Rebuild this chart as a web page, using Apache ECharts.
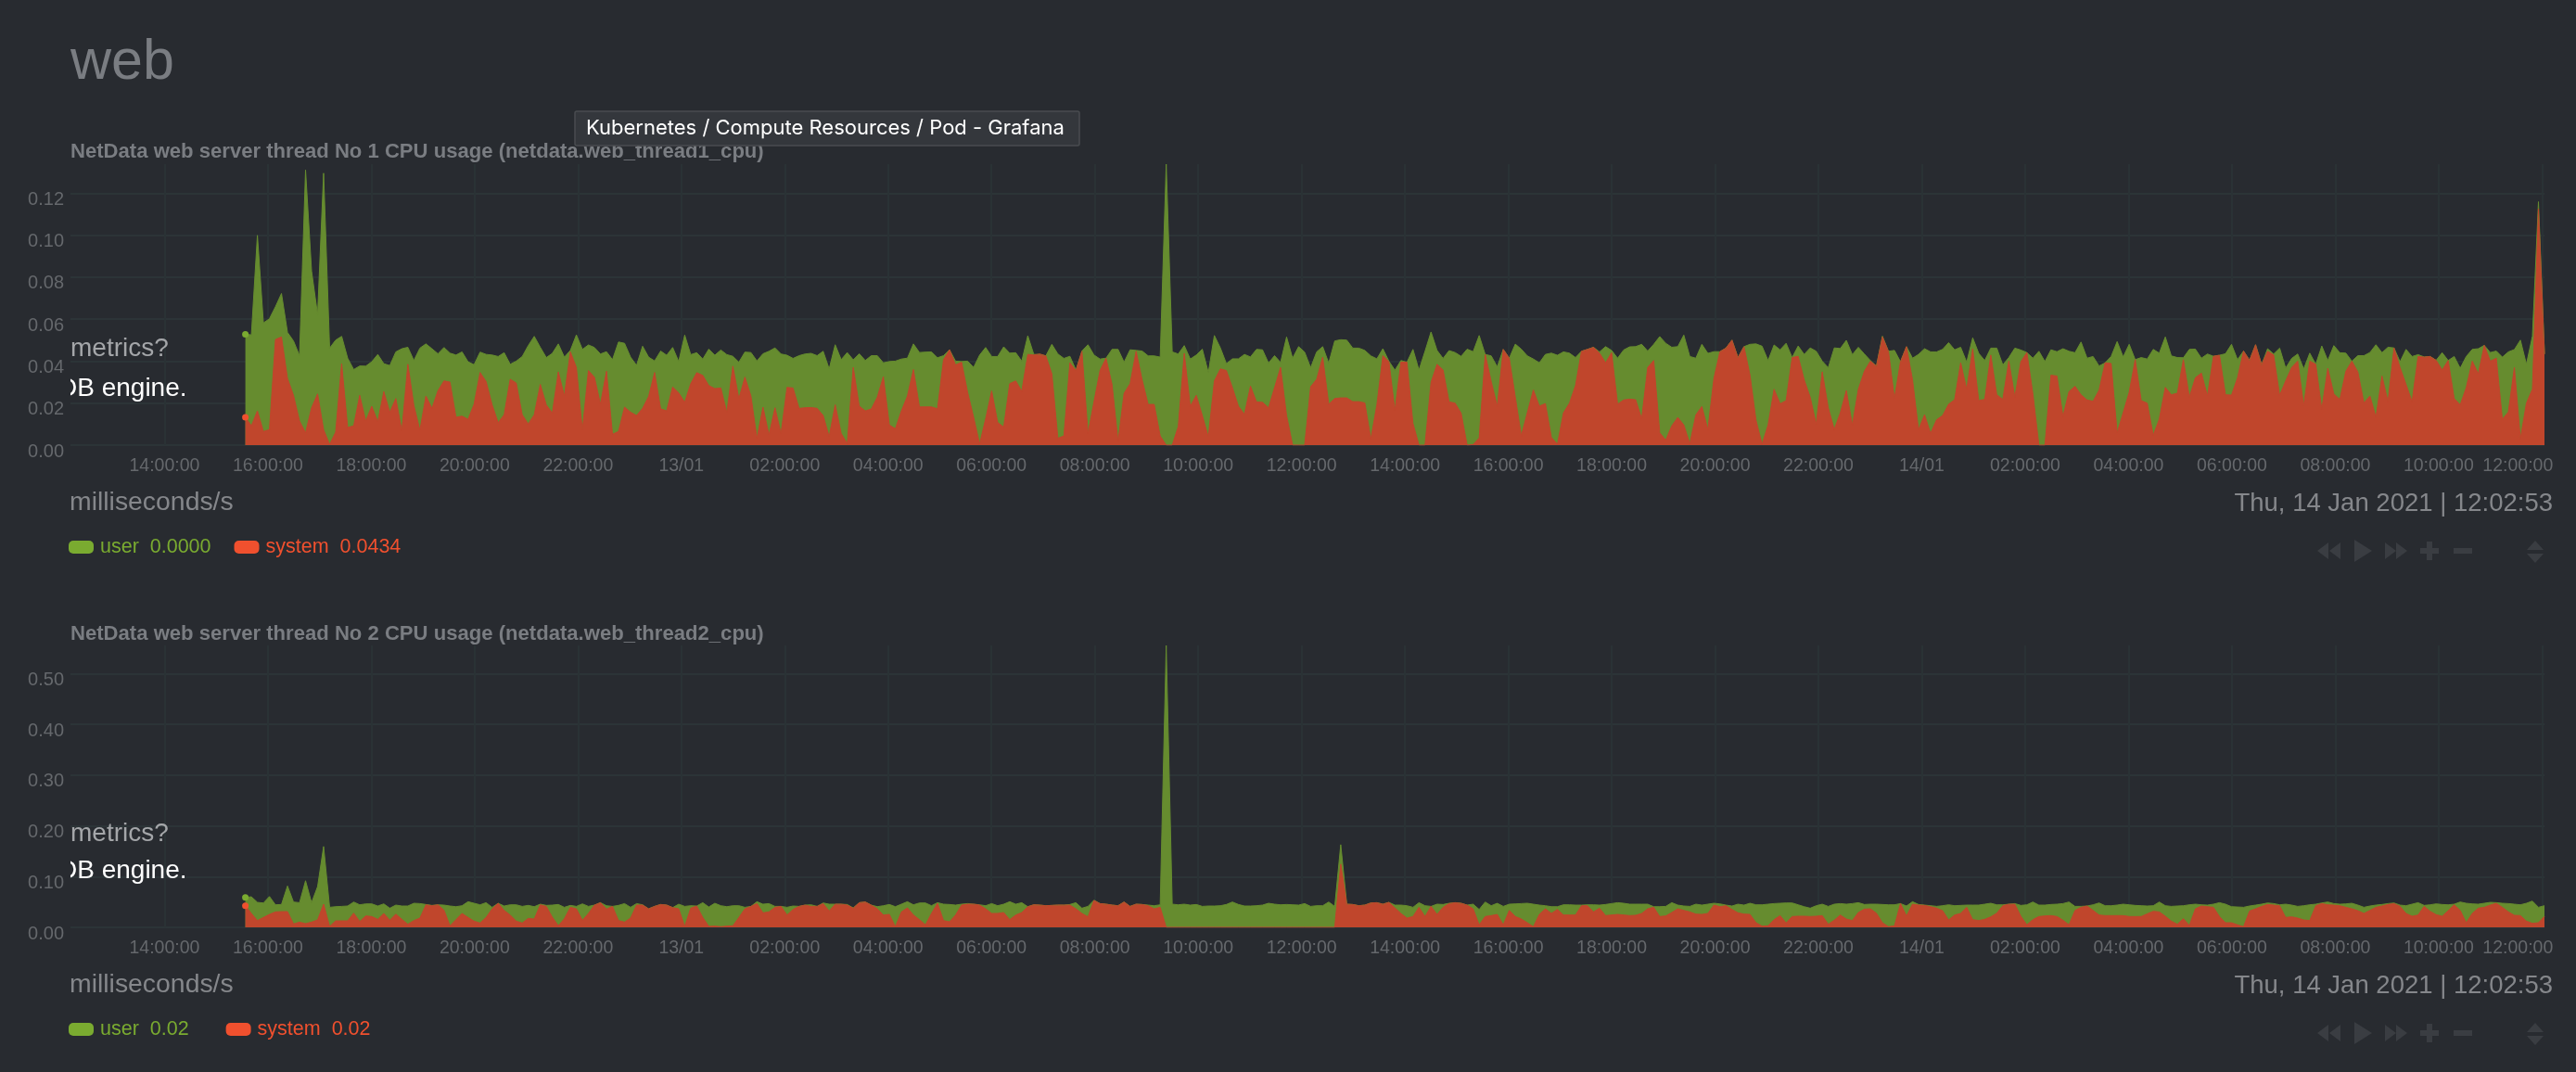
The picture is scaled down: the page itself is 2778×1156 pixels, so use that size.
<!DOCTYPE html>
<html>
<head>
<meta charset="utf-8">
<title>web</title>
<script src="https://cdn.jsdelivr.net/npm/echarts@6/dist/echarts.min.js"></script>
<style>
html, body { margin: 0; padding: 0; background: #282b30; }
#container { width: 2778px; height: 1156px; }
</style>
</head>
<body>
<div id="container"></div>
<script>
// top edge of the stacked area and system values
let top1 = [
    .0528,.0525,.0999,.0582,.0602,.0659,.0722,.0537,.0496,.0426,.1310,.0829,.0622,.1295,.0462,.0500,.0518,.0414,.0360,.0377,
    .0376,.0397,.0432,.0388,.0379,.0444,.0459,.0466,.0403,.0462,.0482,.0459,.0435,.0465,.0438,.0429,.0444,.0397,.0383,.0443,
    .0432,.0429,.0422,.0440,.0385,.0400,.0422,.0474,.0518,.0466,.0417,.0437,.0482,.0419,.0451,.0525,.0456,
    .0477,.0465,.0434,.0445,.0407,.0491,.0485,.0419,.0380,.0471,.0419,.0401,.0448,.0428,.0465,.0398,.0524,.0431,.0440,.0410,
    .0457,.0428,.0453,.0431,.0423,.0395,.0443,.0441,.0401,.0435,.0447,.0463,.0434,.0428,.0413,.0426,.0434,.0437,.0426,.0447,
    .0363,.0478,.0407,.0441,.0406,.0435,.0403,.0426,.0426,.0392,.0398,.0400,.0410,.0414,.0482,.0441,.0443,.0444,.0416,.0426,
    .0454,.0400,.0398,.0400,.0370,.0429,.0465,.0422,.0422,.0468,.0438,.0440,.0400,.0521,.0432,.0432,.0425,.0480,.0434,.0413,
    .0423,.0358,.0448,.0478,.0429,.0410,.0414,.0456,.0456,.0395,.0454,.0451,.0448,.0425,.0425,.0419,.1338,.0444,.0434,.0474,
    .0410,.0429,.0457,.0346,.0522,.0463,.0388,.0411,.0411,.0432,.0420,.0456,.0454,.0391,.0426,.0394,.0515,.0414,.0469,.0443,
    .0369,.0444,.0469,.0391,.0496,.0502,.0500,.0462,.0462,.0451,.0425,.0411,.0459,.0400,.0357,.0403,.0395,.0456,.0358,.0447,
    .0539,.0451,.0413,.0450,.0441,.0423,.0457,.0445,.0522,.0432,.0425,.0373,.0456,.0414,.0481,.0457,.0425,.0410,.0392,.0432,
    .0438,.0428,.0444,.0438,.0417,.0447,.0456,.0466,.0444,.0469,.0451,.0414,.0453,.0468,.0469,.0480,.0448,.0480,.0517,.0485,
    .0466,.0469,.0524,.0422,.0414,.0480,.0437,.0445,.0445,.0462,.0500,.0417,.0469,.0480,.0482,.0471,.0403,.0477,.0454,.0485,
    .0417,.0472,.0432,.0463,.0447,.0400,.0369,.0463,.0460,.0499,.0431,.0466,.0434,.0403,.0376,.0519,.0447,.0451,.0397,.0469,
    .0414,.0432,.0459,.0444,.0444,.0456,.0488,.0454,.0466,.0395,.0511,.0437,.0403,.0462,.0462,.0382,.0417,.0462,.0453,.0441,
    .0414,.0447,.0398,.0454,.0445,.0459,.0447,.0440,.0491,.0414,.0422,.0377,.0392,.0422,.0493,.0420,.0480,.0407,.0417,.0410,
    .0456,.0438,.0515,.0425,.0417,.0416,.0456,.0457,.0414,.0434,.0423,.0428,.0435,.0480,.0407,.0448,.0404,.0478,.0383,.0459,
    .0434,.0462,.0367,.0413,.0434,.0363,.0438,.0385,.0472,.0403,.0474,.0440,.0438,.0400,.0426,.0426,.0441,.0478,.0440,.0466,
    .0463,.0397,.0456,.0422,.0431,.0420,.0422,.0404,.0440,.0403,.0422,.0366,.0422,.0456,.0459,.0475,.0441,.0448,.0419,.0444,
    .0455,.0500,.0385,.0519,.1159,.0434
];
let system1 = [
    .0133,.0092,.0163,.0065,.0074,.0503,.0515,.0318,.0237,.0115,.0059,.0178,.0244,.0074,.0003,.0062,.0388,.0084,.0092,.0237,
    .0115,.0185,.0112,.0255,.0157,.0222,.0068,.0385,.0189,.0071,.0234,.0175,.0259,.0306,.0300,.0133,.0138,.0123,.0195,.0346,
    .0303,.0192,.0107,.0145,.0314,.0296,.0145,.0101,.0145,.0289,.0192,.0152,.0349,.0234,.0444,.0370,.0071,
    .0355,.0323,.0195,.0352,.0052,.0065,.0181,.0157,.0141,.0175,.0232,.0346,.0173,.0163,.0277,.0249,.0204,.0293,.0345,.0332,
    .0284,.0269,.0272,.0155,.0376,.0221,.0324,.0234,.0033,.0181,.0049,.0178,.0055,.0275,.0272,.0175,.0178,.0179,.0175,.0141,
    .0041,.0192,.0056,.0007,.0370,.0186,.0163,.0172,.0229,.0326,.0096,.0078,.0163,.0234,.0360,.0182,.0182,.0182,.0173,.0407,
    .0454,.0382,.0395,.0252,.0133,.0006,.0126,.0258,.0108,.0086,.0293,.0306,.0256,.0432,.0429,.0434,.0425,.0340,.0033,.0044,
    .0392,.0355,.0447,.0056,.0207,.0355,.0414,.0289,.0018,.0247,.0293,.0447,.0311,.0194,.0194,.0044,0,0,.0089,.0437,
    .0185,.0237,.0141,.0040,.0306,.0363,.0355,.0274,.0185,.0147,.0281,.0206,.0204,.0178,.0274,.0370,.0141,0,0,0,
    .0278,.0314,.0419,.0195,.0222,.0225,.0225,.0207,.0207,.0201,.0030,.0192,.0426,.0397,.0166,.0395,.0395,.0104,0,0,
    .0299,.0385,.0358,.0206,.0200,.0152,0,.0003,.0034,.0432,.0303,.0185,.0456,.0414,.0229,.0044,.0155,.0263,.0186,.0198,
    .0037,.0004,.0154,.0200,.0284,.0447,.0456,.0466,.0438,.0392,.0440,.0195,.0215,.0219,.0216,.0126,.0370,.0403,.0059,.0024,
    .0092,.0132,.0096,.0007,.0144,.0184,.0074,.0318,.0445,.0462,.0500,.0417,.0469,.0333,.0118,.0004,.0096,.0266,.0197,.0212,
    .0417,.0423,.0311,.0228,.0101,.0349,.0178,.0075,.0154,.0260,.0096,.0266,.0352,.0400,.0376,.0515,.0447,.0222,.0397,.0469,
    .0311,.0074,.0145,.0056,.0121,.0141,.0195,.0216,.0392,.0266,.0459,.0212,.0218,.0429,.0240,.0218,.0400,.0229,.0397,.0441,
    .0244,0,0,.0333,.0329,.0136,.0255,.0280,.0240,.0215,.0209,.0262,.0392,.0389,.0058,.0155,.0252,.0407,.0212,.0200,
    .0047,.0124,.0275,.0240,.0247,.0407,.0229,.0321,.0343,.0234,.0423,.0428,.0240,.0238,.0321,.0448,.0404,.0478,.0383,.0447,
    .0429,.0237,.0306,.0370,.0400,.0188,.0400,.0385,.0170,.0366,.0244,.0218,.0352,.0400,.0348,.0201,.0234,.0133,.0329,.0207,
    .0463,.0370,.0289,.0207,.0422,.0419,.0422,.0404,.0358,.0403,.0222,.0192,.0274,.0400,.0340,.0475,.0400,.0414,.0123,.0158,
    .0370,.0030,.0200,.0267,.1126,.0434
];
let top2 = [
    .0590,.0602,.0492,.0480,.0608,.0444,.0450,.0815,.0499,.0486,.0918,.0486,.0803,.1593,.0395,.0407,.0413,.0420,.0499,.0444,
    .0462,.0462,.0420,.0462,.0377,.0438,.0420,.0420,.0474,.0468,.0450,.0432,.0444,.0438,.0420,.0407,.0426,.0505,.0474,.0444,
    .0486,.0395,.0474,.0420,.0444,.0444,.0413,.0432,.0407,.0456,.0432,.0438,.0450,.0395,.0432,.0413,.0462,.0413,.0438,.0486,
    .0426,.0413,.0432,.0468,.0395,.0468,.0444,.0365,.0413,.0450,.0438,.0389,.0456,.0413,.0426,.0420,.0486,.0401,
    .0474,.0426,.0407,.0426,.0426,.0395,.0413,.0505,.0456,.0468,.0413,.0413,.0395,.0420,.0413,.0438,.0444,.0413,.0480,.0456,.0456,
    .0456,.0450,.0383,.0486,.0499,.0438,.0407,.0426,.0450,.0407,.0456,.0505,.0444,.0480,.0480,.0426,.0486,.0456,.0450,.0438,
    .0456,.0468,.0456,.0444,.0426,.0468,.0426,.0456,.0505,.0456,.0486,.0407,.0444,.0438,.0426,.0432,.0438,.0438,.0450,.0486,
    .0377,.0413,.0535,.0468,.0456,.0438,.0426,.0499,.0413,.0456,.0450,.0438,.0426,.0444,
    .5555,.0456,.0444,.0456,.0438,.0450,.0413,.0420,.0420,.0426,.0450,.0499,.0450,.0420,.0420,.0426,.0438,.0474,.0456,.0444,
    .0450,.0444,.0438,.0468,.0413,.0426,.0426,.0499,.0413,.1629,
    .0456,.0450,.0426,.0438,.0480,.0486,.0456,.0492,.0438,.0438,.0426,.0395,.0486,.0426,.0413,.0456,.0450,.0474,.0486,.0474,
    .0438,.0456,.0353,.0499,.0426,.0474,.0413,.0456,.0462,.0468,.0474,.0456,.0438,.0426,.0407,.0407,.0444,.0444,.0438,.0438,
    .0444,.0444,.0438,.0450,.0468,.0486,.0474,.0456,.0456,.0456,.0456,.0407,.0407,.0413,.0486,.0438,.0420,.0413,.0456,.0438,
    .0456,.0474,.0462,.0438,.0420,.0456,.0438,.0474,.0444,.0444,.0456,.0468,.0474,.0480,.0480,.0444,.0407,.0377,.0426,.0456,
    .0413,.0456,.0468,.0456,.0468,.0486,.0450,.0456,.0456,.0450,.0444,.0444,.0468,.0420,.0505,.0450,.0438,.0426,.0413,.0426,
    .0444,.0426,.0432,.0438,.0438,.0438,.0456,.0474,.0444,.0444,.0456,.0468,.0432,.0444,.0499,.0438,.0438,.0450,.0456,.0468,
    .0499,.0413,.0413,.0420,.0444,.0480,.0426,.0426,.0438,.0456,.0444,.0432,.0426,.0420,.0426,.0499,.0426,.0413,.0420,.0426,
    .0444,.0456,.0444,.0438,.0456,.0486,.0456,.0407,.0401,.0395,.0420,.0438,.0456,.0480,.0468,.0444,.0456,.0438,.0413,.0426,
    .0444,.0456,.0480,.0499,.0468,.0456,.0462,.0474,.0438,.0395,.0420,.0438,.0450,.0468,.0480,.0438,.0426,.0456,.0486,.0432,
    .0444,.0462,.0450,.0444,.0456,.0499,.0474,.0462,.0456,.0474,.0492,.0486,.0474,.0468,.0456,.0444,.0474,.0517,.0395,.0426
];
let system2 = [
    .0426,.0274,.0134,.0195,.0255,.0304,.0310,.0310,.0067,.0103,.0073,.0103,.0146,.0456,.0018,.0128,.0128,.0128,.0280,.0116,
    .0225,.0213,.0158,.0274,.0140,.0261,.0158,.0061,.0134,.0182,.0444,.0426,.0444,.0340,.0030,.0152,.0274,.0195,.0122,.0085,
    .0195,.0365,.0474,.0334,.0243,.0122,.0085,.0176,.0164,.0444,.0413,.0201,.0030,.0170,.0395,.0365,.0140,.0274,.0438,.0486,
    .0359,.0413,.0134,.0103,.0182,.0438,.0438,.0365,.0413,.0450,.0438,.0389,.0365,.0018,.0377,.0420,.0195,.0018,
    .0024,.0012,.0024,.0030,.0195,.0365,.0413,.0468,.0286,.0304,.0395,.0413,.0243,.0353,.0413,.0438,.0413,.0413,.0468,.0322,.0456,
    .0456,.0438,.0377,.0486,.0499,.0438,.0365,.0243,.0255,.0012,.0304,.0383,.0243,.0152,.0049,.0274,.0474,.0134,.0109,.0243,
    .0438,.0456,.0456,.0438,.0365,.0274,.0274,.0292,.0152,.0243,.0292,.0407,.0444,.0438,.0426,.0432,.0438,.0438,.0438,.0365,
    .0274,.0207,.0529,.0468,.0456,.0438,.0426,.0499,.0413,.0456,.0450,.0426,.0365,.0395,
    0,0,0,0,0,0,0,0,0,0,0,0,0,0,0,0,0,0,0,0,
    0,0,0,0,0,0,0,0,0,.1246,
    .0456,.0450,.0426,.0438,.0480,.0486,.0456,.0492,.0383,.0274,.0182,.0213,.0395,.0213,.0413,.0255,.0395,.0468,.0486,.0474,
    .0438,.0365,.0049,.0213,.0231,.0255,.0049,.0334,.0213,.0164,.0091,.0012,.0255,.0365,.0274,.0353,.0243,.0243,.0243,.0426,
    .0426,.0304,.0377,.0231,.0243,.0255,.0243,.0231,.0237,.0274,.0365,.0395,.0213,.0225,.0292,.0365,.0334,.0304,.0261,.0255,
    .0274,.0438,.0407,.0426,.0353,.0286,.0261,.0255,.0091,.0024,.0030,.0152,.0231,.0085,.0213,.0219,.0219,.0213,.0219,.0231,
    .0061,.0140,.0243,.0164,.0134,.0292,.0359,.0365,.0279,.0091,.0012,.0030,.0468,.0225,.0456,.0438,.0432,.0407,.0377,.0328,
    .0146,.0243,.0274,.0395,.0152,.0134,.0158,.0207,.0279,.0426,.0456,.0456,.0219,.0049,.0152,.0213,.0225,.0231,.0213,.0140,
    .0049,.0334,.0395,.0420,.0334,.0243,.0231,.0231,.0231,.0231,.0213,.0213,.0213,.0267,.0316,.0304,.0219,.0122,.0061,.0170,
    .0036,.0365,.0420,.0407,.0395,.0213,.0091,.0091,.0049,.0012,.0322,.0365,.0413,.0450,.0438,.0426,.0195,.0207,.0182,.0146,
    .0134,.0426,.0468,.0444,.0438,.0426,.0395,.0365,.0328,.0274,.0334,.0395,.0420,.0450,.0468,.0413,.0274,.0219,.0243,.0413,
    .0316,.0249,.0219,.0328,.0444,.0334,.0091,.0274,.0377,.0395,.0438,.0474,.0395,.0304,.0237,.0231,.0122,.0079,.0091,.0213
];

// last sample of the chart and the approximate first one, in UTC
let endTime = Date.UTC(2021, 0, 14, 12, 2, 53);
let startTime = Date.UTC(2021, 0, 12, 15, 33, 50);
let axisStart = Date.UTC(2021, 0, 12, 12, 10, 48);
let tickValues = [];
for (let h = 14; h <= 60; h += 2) {
    tickValues.push(Date.UTC(2021, 0, 12, h));
}
let lastTick = tickValues[tickValues.length - 1];

let titles = [
    'NetData web server thread No 1 CPU usage (netdata.web_thread1_cpu)',
    'NetData web server thread No 2 CPU usage (netdata.web_thread2_cpu)',
];
let legendValues = [['0.0000', '0.0434'], ['0.02', '0.02']];

let bg = '#282b30';
let green = '#668c2f', red = '#c0462c';
let legendGreen = '#7aab30', legendRed = '#f0502e';
let grey = '#65686c', midGrey = '#85878b', dark = '#3a3d42';
let font = '"Liberation Sans", Arial, sans-serif';

function timeOf(i) {
    return startTime + (endTime - startTime) * i / (top1.length - 1);
}

function pad(n) {
    return (n < 10 ? '0' : '') + n;
}

function tickLabel(value) {
    let d = new Date(value);
    let text = pad(d.getUTCHours()) + ':00:00';
    if (d.getUTCHours() == 0) {
        text = pad(d.getUTCDate()) + '/' + pad(d.getUTCMonth() + 1);
    }
    // netdata pushes the last label back inside the chart
    return value == lastTick ? '{last|' + text + '}' : text;
}

function makeXAxis(gridIndex) {
    return {
        type: 'value',
        gridIndex: gridIndex,
        min: axisStart,
        max: endTime,
        axisLine: { show: false },
        axisTick: { show: false, customValues: tickValues },
        axisLabel: {
            customValues: tickValues,
            color: grey,
            fontSize: 19.5,
            fontFamily: font,
            margin: 13,
            hideOverlap: false,
            formatter: tickLabel,
            rich: {
                last: { color: grey, fontSize: 19.5, fontFamily: font, padding: [0, 52, 0, 0] },
            },
        },
        splitLine: { show: true, lineStyle: { color: '#2a3235', width: 2 } },
    };
}

function makeYAxis(gridIndex, max, interval) {
    return {
        type: 'value',
        gridIndex: gridIndex,
        min: 0,
        max: max,
        interval: interval,
        axisLine: { show: false },
        axisTick: { show: false },
        axisLabel: {
            color: grey,
            fontSize: 20,
            fontFamily: font,
            margin: 7,
            verticalAlign: 'top',
            lineHeight: 14,
            showMaxLabel: false,
            formatter: value => value.toFixed(2),
        },
        splitLine: { showMaxLine: false, lineStyle: { color: '#2c3437', width: 2 } },
    };
}

function makeSeries(name, gridIndex, values, fill, dot) {
    return {
        name: name,
        type: 'line',
        xAxisIndex: gridIndex,
        yAxisIndex: gridIndex,
        animation: false,
        showSymbol: true,
        showAllSymbol: true,
        symbol: 'circle',
        symbolSize: (value, params) => params.dataIndex == 0 ? 7 : 0,
        color: dot,
        itemStyle: { color: dot },
        lineStyle: { color: fill, width: 1 },
        areaStyle: { color: fill, opacity: 1 },
        data: values.map((v, i) => [timeOf(i), v]),
    };
}

function makeLegend(index, top, gap) {
    let values = legendValues[index];
    return {
        left: 74,
        top: top,
        itemWidth: 27,
        itemHeight: 14,
        itemGap: gap,
        padding: 0,
        selectedMode: false,
        icon: 'path://M5,0 H22 A5,5 0 0 1 27,5 V9 A5,5 0 0 1 22,14 H5 A5,5 0 0 1 0,9 V5 A5,5 0 0 1 5,0 Z',
        textStyle: { fontSize: 21.5, fontFamily: font, padding: [0, 0, 0, 2] },
        formatter: name => name + '  ' + (name == 'user' ? values[0] : values[1]),
        data: [
            { name: 'user', itemStyle: { color: legendGreen }, textStyle: { color: legendGreen } },
            { name: 'system', itemStyle: { color: legendRed }, textStyle: { color: legendRed } },
        ],
    };
}

function poly(points) {
    return { type: 'polygon', shape: { points: points }, style: { fill: dark }, silent: true };
}

function box(x, y, width, height) {
    return { type: 'rect', shape: { x: x, y: y, width: width, height: height }, style: { fill: dark }, silent: true };
}

// player buttons below the date
function buttons(y) {
    return [
        poly([[2511, y + 2], [2499, y + 11], [2511, y + 20]]),
        poly([[2524, y + 2], [2512, y + 11], [2524, y + 20]]),
        poly([[2539, y - 1], [2558, y + 11], [2539, y + 23]]),
        poly([[2572, y + 2], [2584, y + 11], [2572, y + 20]]),
        poly([[2584, y + 2], [2596, y + 11], [2584, y + 20]]),
        box(2610, y + 8, 20, 6),
        box(2617, y + 1, 6, 20),
        box(2646, y + 8, 20, 6),
        poly([[2734, y], [2743, y + 10], [2725, y + 10]]),
        poly([[2725, y + 14], [2743, y + 14], [2734, y + 24]]),
    ];
}

function text(x, y, str, size, color, align) {
    return {
        type: 'text',
        x: x,
        y: y,
        silent: true,
        z: 1,
        style: { text: str, fill: color, font: size + 'px ' + font, align: align || 'left', verticalAlign: 'middle' },
    };
}

// page text sticking out from behind the chart, cut off at the plot's left edge
function clippedText(y) {
    return {
        type: 'custom',
        coordinateSystem: 'none',
        silent: true,
        z: 4,
        data: [0],
        renderItem: () => ({
            type: 'text',
            x: 63,
            y: y,
            style: { text: 'DB engine.', fill: '#ffffff', font: '28px ' + font, verticalAlign: 'middle' },
            clipPath: { type: 'rect', shape: { x: 13, y: -24, width: 200, height: 48 } },
        }),
    };
}

let graphicElements = [].concat(
    [
        text(76, 376, 'metrics?', 28, '#a4a6a9'),
        text(76, 899, 'metrics?', 28, '#a4a6a9'),
        text(75, 542, 'milliseconds/s', 28.4, midGrey),
        text(75, 1062, 'milliseconds/s', 28.4, midGrey),
        text(2753, 543, 'Thu, 14 Jan 2021 | 12:02:53', 27.5, midGrey, 'right'),
        text(2753, 1063, 'Thu, 14 Jan 2021 | 12:02:53', 27.5, midGrey, 'right'),
    ],
    buttons(583),
    buttons(1103),
    [
        {
            type: 'rect',
            z: 20,
            silent: true,
            shape: { x: 620, y: 120, width: 544, height: 37, r: 2 },
            style: { fill: '#34373c', stroke: '#494c50', lineWidth: 1.5 },
        },
        {
            type: 'text',
            z: 21,
            x: 632,
            y: 138,
            silent: true,
            style: { text: 'Kubernetes / Compute Resources / Pod - Grafana', fill: '#ffffff', font: '22px Inter, sans-serif', verticalAlign: 'middle' },
        },
    ]
);

let chart = echarts.init(document.getElementById('container'));
chart.setOption({
    backgroundColor: bg,
    animation: false,
    title: [
        { text: 'web', left: 71, top: 33, textStyle: { color: '#7a7d82', fontSize: 61, fontWeight: 'normal', fontFamily: font } },
        { text: titles[0], left: 71, top: 148, textStyle: { color: '#7a7d82', fontSize: 22.1, fontWeight: 'bold', fontFamily: font } },
        { text: titles[1], left: 71, top: 668, textStyle: { color: '#7a7d82', fontSize: 22.1, fontWeight: 'bold', fontFamily: font } },
    ],
    legend: [makeLegend(0, 579, 25), makeLegend(1, 1099, 40)],
    grid: [
        { left: 76, width: 2668, top: 177, height: 303 },
        { left: 76, width: 2668, top: 696, height: 304 },
    ],
    xAxis: [makeXAxis(0), makeXAxis(1)],
    yAxis: [makeYAxis(0, 0.1338, 0.02), makeYAxis(1, 0.5555, 0.1)],
    // no stack here: with two value axes echarts stacks along x, so the user
    // area is drawn to the top of the stack and system is laid over it
    series: [
        makeSeries('user', 0, top1, green, '#7aab30'),
        makeSeries('system', 0, system1, red, '#f0502e'),
        makeSeries('user', 1, top2, green, '#7aab30'),
        makeSeries('system', 1, system2, red, '#f0502e'),
        clippedText(419),
        clippedText(939),
    ],
    graphic: { elements: graphicElements },
});
</script>
</body>
</html>
